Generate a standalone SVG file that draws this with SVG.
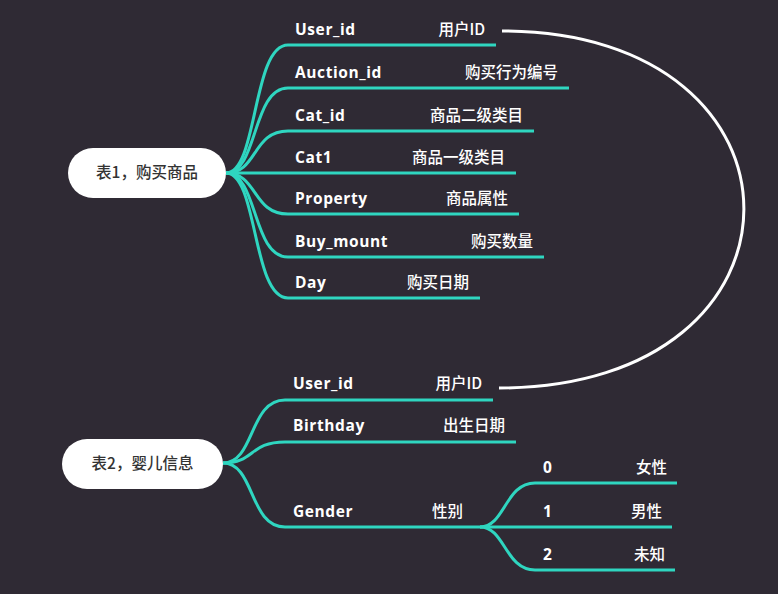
<svg xmlns="http://www.w3.org/2000/svg" width="778" height="594" viewBox="0 0 778 594">
<style>
.bg{fill:#2f2a34}
.pill{fill:#ffffff}
.pt{font-family:"Noto Sans CJK SC","Open Sans",sans-serif;font-size:15.5px;font-weight:500;fill:#333333;text-anchor:middle}
.en{font-family:"Open Sans","Noto Sans CJK SC",sans-serif;font-weight:700;font-size:15.5px;letter-spacing:0.6px;fill:#ffffff}
.zh{font-family:"Noto Sans CJK SC",sans-serif;font-size:15.5px;font-weight:500;fill:#ffffff;text-anchor:end}
.zs{font-family:"Noto Sans CJK SC",sans-serif;font-size:15.5px;font-weight:500;fill:#ffffff}
.br{fill:none;stroke:#2fd6c0;stroke-width:3;stroke-linecap:butt}
.link{fill:none;stroke:#ffffff;stroke-width:3}
</style>
<rect class="bg" x="0" y="0" width="778" height="594"/>
<g id="connectors">
<path class="br" d="M226,173 C258,173 252,45 288,45 L496,45"/>
<path class="br" d="M226,173 C258,173 252,88 288,88 L569,88"/>
<path class="br" d="M226,173 C258,173 252,131 288,131 L534,131"/>
<path class="br" d="M226,173 L516,173"/>
<path class="br" d="M226,173 C258,173 252,214 288,214 L519,214"/>
<path class="br" d="M226,173 C258,173 252,257 288,257 L544,257"/>
<path class="br" d="M226,173 C258,173 252,298 288,298 L480,298"/>
<path class="br" d="M223,463 C255,463 249,400 285,400 L493,400"/>
<path class="br" d="M223,463 C255,463 249,442 285,442 L516,442"/>
<path class="br" d="M223,463 C255,463 249,527 285,527 L672,527"/>
<path class="br" d="M480,527 C505,527 505,483 535,483 L677,483"/>
<path class="br" d="M480,527 C505,527 505,570 535,570 L675,570"/>
<path class="link" d="M502,31 C825,31 825,388 499,388"/>
</g>
<g id="table1">
<rect class="pill" x="68" y="148" width="158" height="50" rx="25"/>
<text class="pt" x="147" y="178">表1，购买商品</text>
</g>
<g id="t1-user_id"><text class="en" x="295" y="35">User_id</text><text class="zh" x="485" y="35">用户ID</text></g>
<g id="t1-auction_id"><text class="en" x="295" y="78">Auction_id</text><text class="zh" x="558" y="78">购买行为编号</text></g>
<g id="t1-cat_id"><text class="en" x="295" y="121">Cat_id</text><text class="zh" x="523" y="121">商品二级类目</text></g>
<g id="t1-cat1"><text class="en" x="295" y="163">Cat1</text><text class="zh" x="505" y="163">商品一级类目</text></g>
<g id="t1-property"><text class="en" x="295" y="204">Property</text><text class="zh" x="508" y="204">商品属性</text></g>
<g id="t1-buy_mount"><text class="en" x="295" y="247">Buy_mount</text><text class="zh" x="533" y="247">购买数量</text></g>
<g id="t1-day"><text class="en" x="295" y="288">Day</text><text class="zh" x="469" y="288">购买日期</text></g>
<g id="table2">
<rect class="pill" x="62" y="439" width="161" height="50" rx="25"/>
<text class="pt" x="142.5" y="469">表2，婴儿信息</text>
</g>
<g id="t2-user_id"><text class="en" x="293" y="389">User_id</text><text class="zh" x="482" y="389">用户ID</text></g>
<g id="t2-birthday"><text class="en" x="293" y="431">Birthday</text><text class="zh" x="505" y="431">出生日期</text></g>
<g id="t2-gender"><text class="en" x="293" y="517">Gender</text><text class="zs" x="432" y="517">性别</text></g>
<g id="g-0"><text class="en" x="543" y="473">0</text><text class="zh" x="667" y="473">女性</text></g>
<g id="g-1"><text class="en" x="543" y="517">1</text><text class="zh" x="662" y="517">男性</text></g>
<g id="g-2"><text class="en" x="543" y="560">2</text><text class="zh" x="665" y="560">未知</text></g>
</svg>
